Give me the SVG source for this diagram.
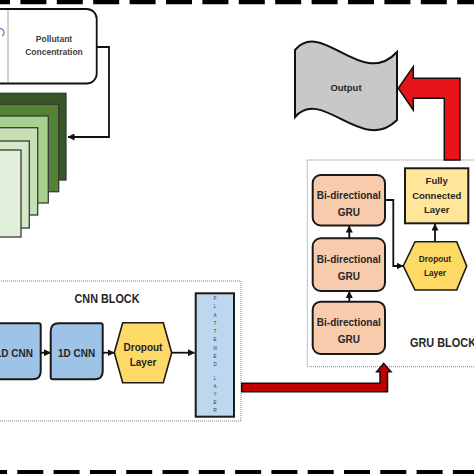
<svg xmlns="http://www.w3.org/2000/svg" width="474" height="474" viewBox="0 0 474 474">
<style>
text{font-family:"Liberation Sans",Arial,sans-serif;fill:#262626;text-anchor:middle}
.b{font-weight:bold}
.dot{fill:none;stroke:#7f7f7f;stroke-width:1;stroke-dasharray:1 1}
.box{stroke:#1a1a1a;stroke-width:2}
.ln{fill:none;stroke:#111;stroke-width:1.8}
.lay{stroke:#3a3a3a;stroke-width:1.3}
.fl{font-size:4.5px;fill:#333}
</style>
<defs>
<marker id="ah" markerUnits="userSpaceOnUse" markerWidth="7" markerHeight="7" viewBox="0 0 7 7" refX="6.5" refY="3.5" orient="auto">
<path d="M0,0 L7,3.5 L0,7 Z" fill="#111"/>
</marker>
</defs>
<rect width="474" height="474" fill="#fff"/>
<g id="border-dashes">
<line x1="-16" y1="2" x2="474" y2="2" stroke="#000" stroke-width="4.5" stroke-dasharray="26 10.4"/>
<line x1="-19" y1="472" x2="474" y2="472" stroke="#000" stroke-width="4" stroke-dasharray="26 10.3"/>
</g>
<g id="blocks">
<rect class="dot" x="-5" y="281" width="246" height="140"/>
<rect class="dot" x="307.3" y="160" width="180" height="206.7"/>
<text class="b" x="107" y="302.5" font-size="13" textLength="65" lengthAdjust="spacingAndGlyphs">CNN BLOCK</text>
<text class="b" x="443" y="346.7" font-size="13" textLength="66" lengthAdjust="spacingAndGlyphs">GRU BLOCK</text>
</g>
<g id="input-node">
<rect x="-40" y="9" width="136.7" height="74.5" rx="10" fill="#fff" stroke="#111" stroke-width="1.8"/>
<line x1="8" y1="10" x2="8" y2="82.5" stroke="#888" stroke-width="0.8"/>
<path d="M-1,29 A3,3.5 0 0 1 2,36" fill="none" stroke="#4a7ab8" stroke-width="1.2"/>
<text class="b" x="54" y="42" font-size="8.5" fill="#404040" style="fill:#404040">Pollutant</text>
<text class="b" x="54" y="55" font-size="8.5" style="fill:#404040">Concentration</text>
</g>
<g id="input-layers">
<rect class="lay" x="-20" y="93.3" width="86" height="86.7" fill="#375623"/>
<rect class="lay" x="-20" y="104.3" width="78.7" height="87.4" fill="#548235"/>
<rect class="lay" x="-20" y="116" width="68.3" height="87" fill="#a9d18e"/>
<rect class="lay" x="-20" y="127.7" width="57.7" height="87.3" fill="#c5e0b4"/>
<rect class="lay" x="-20" y="141" width="49.3" height="87" fill="#d5e8c8"/>
<rect class="lay" x="-20" y="150" width="41" height="87" fill="#e2efda"/>
</g>
<g id="cnn1">
<path class="box" fill="#9dc3e6" d="M-4,323.3 H38.7 Q40.7,323.3 40.7,325.3 V371.3 Q40.7,379.3 32.7,379.3 H-10 Q-12,379.3 -12,377.3 V331.3 Q-12,323.3 -4,323.3 Z"/>
<text class="b" x="14.3" y="356.5" font-size="10">1D CNN</text>
</g>
<g id="cnn2">
<path class="box" fill="#9dc3e6" d="M58.7,323.3 H100.7 Q102.7,323.3 102.7,325.3 V371.3 Q102.7,379.3 94.7,379.3 H52.7 Q50.7,379.3 50.7,377.3 V331.3 Q50.7,323.3 58.7,323.3 Z"/>
<text class="b" x="76.5" y="356.5" font-size="10">1D CNN</text>
</g>
<g id="cnn-dropout">
<path d="M114.3,352.7 L122.7,322.7 H163.3 L171.7,352.7 L163.3,382.7 H122.7 Z" fill="#ffd966" stroke="#1a1a1a" stroke-width="1.6"/>
<text class="b" x="143" y="350.5" font-size="10">Dropout</text>
<text class="b" x="143" y="366" font-size="10">Layer</text>
</g>
<g id="flatten">
<rect class="box" x="195.7" y="293.3" width="38.3" height="123.4" fill="#bdd7ee"/>
<text class="fl" x="215" y="300">F</text>
<text class="fl" x="215" y="308.3">L</text>
<text class="fl" x="215" y="316.5">A</text>
<text class="fl" x="215" y="324.8">T</text>
<text class="fl" x="215" y="333">T</text>
<text class="fl" x="215" y="341.3">E</text>
<text class="fl" x="215" y="349.5">N</text>
<text class="fl" x="215" y="357.8">E</text>
<text class="fl" x="215" y="366">D</text>
<text class="fl" x="215" y="380">L</text>
<text class="fl" x="215" y="388">A</text>
<text class="fl" x="215" y="396">Y</text>
<text class="fl" x="215" y="404">E</text>
<text class="fl" x="215" y="412">R</text>
</g>
<g id="gru1">
<rect class="box" x="312.7" y="175" width="72.3" height="50.5" rx="8" fill="#f8cbad"/>
<text class="b" x="348.8" y="199" font-size="10">Bi-directional</text>
<text class="b" x="348.8" y="215.5" font-size="10">GRU</text>
</g>
<g id="gru2">
<rect class="box" x="312.7" y="238.3" width="72.3" height="52.7" rx="8" fill="#f8cbad"/>
<text class="b" x="348.8" y="263" font-size="10">Bi-directional</text>
<text class="b" x="348.8" y="279.5" font-size="10">GRU</text>
</g>
<g id="gru3">
<rect class="box" x="312.7" y="301.7" width="72.3" height="52.3" rx="8" fill="#f8cbad"/>
<text class="b" x="348.8" y="326" font-size="10">Bi-directional</text>
<text class="b" x="348.8" y="342.5" font-size="10">GRU</text>
</g>
<g id="gru-dropout">
<path d="M403.3,266 L415,241.7 H456.7 L466.7,266 L456.7,290 H415 Z" fill="#ffd966" stroke="#1a1a1a" stroke-width="1.6"/>
<text class="b" x="435" y="262" font-size="8.3">Dropout</text>
<text class="b" x="435" y="276" font-size="8.3">Layer</text>
</g>
<g id="fc">
<rect class="box" x="405" y="168.3" width="63.3" height="55" fill="#ffe699"/>
<text class="b" x="436.7" y="184" font-size="9.5">Fully</text>
<text class="b" x="436.7" y="198.8" font-size="9.5">Connected</text>
<text class="b" x="436.7" y="213.3" font-size="9.5">Layer</text>
</g>
<g id="output">
<path d="M295,50 C322,18 362,90 397,52 L397,120 C362,155 322,86 295,117 Z" fill="#c8c8c8" stroke="#111" stroke-width="2"/>
<text class="b" x="346" y="91" font-size="9.5">Output</text>
</g>
<g id="connectors">
<path class="ln" d="M96.7,47 H109 V137 H68" marker-end="url(#ah)"/>
<line class="ln" x1="40.7" y1="352.7" x2="50.5" y2="352.7" marker-end="url(#ah)"/>
<line class="ln" x1="102.7" y1="352.7" x2="114" y2="352.7" marker-end="url(#ah)"/>
<line class="ln" x1="171.7" y1="352.7" x2="194.5" y2="352.7" marker-end="url(#ah)"/>
<line class="ln" x1="349.3" y1="301.7" x2="349.3" y2="291.5" marker-end="url(#ah)"/>
<line class="ln" x1="349.3" y1="238.3" x2="349.3" y2="226" marker-end="url(#ah)"/>
<path class="ln" d="M385,200 H393.3 V266 H403" marker-end="url(#ah)"/>
<line class="ln" x1="435" y1="241.7" x2="435" y2="224" marker-end="url(#ah)"/>
<path d="M241.7,383.3 H380 V371.7 H376.7 L383.7,363.3 L391,371.7 H387.5 V391.7 H241.7 Z" fill="#c00000" stroke="#111" stroke-width="1.5"/>
<path d="M444.3,160 V98.3 H413.3 V110 L398.3,88.3 L413.3,66.7 V78.3 H460 V160 Z" fill="#e8141b" stroke="#111" stroke-width="1.5"/>
</g>
</svg>
